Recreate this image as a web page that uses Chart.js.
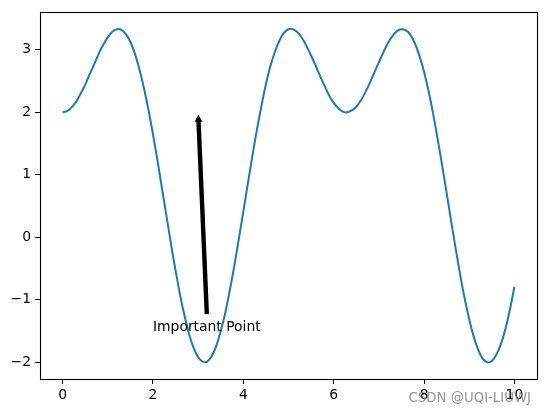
<!DOCTYPE html>
<html>
<head>
<meta charset="utf-8">
<script src="https://cdn.jsdelivr.net/npm/chart.js@4.4.1/dist/chart.umd.min.js"></script>
<style>
  html, body { margin: 0; padding: 0; background: #fff; }
  canvas { display: block; }
</style>
</head>
<body>
<canvas id="chart" width="546" height="413"></canvas>
<script>
// данные
const xValues = [
  0.0, 0.1, 0.2, 0.3, 0.4, 0.5, 0.6, 0.7, 0.8, 0.9,
  1.0, 1.1, 1.2, 1.3, 1.4, 1.5, 1.6, 1.7, 1.8, 1.9,
  2.0, 2.1, 2.2, 2.3, 2.4, 2.5, 2.6, 2.7, 2.8, 2.9,
  3.0, 3.1, 3.2, 3.3, 3.4, 3.5, 3.6, 3.7, 3.8, 3.9,
  4.0, 4.1, 4.2, 4.3, 4.4, 4.5, 4.6, 4.7, 4.8, 4.9,
  5.0, 5.1, 5.2, 5.3, 5.4, 5.5, 5.6, 5.7, 5.8, 5.9,
  6.0, 6.1, 6.2, 6.3, 6.4, 6.5, 6.6, 6.7, 6.8, 6.9,
  7.0, 7.1, 7.2, 7.3, 7.4, 7.5, 7.6, 7.7, 7.8, 7.9,
  8.0, 8.1, 8.2, 8.3, 8.4, 8.5, 8.6, 8.7, 8.8, 8.9,
  9.0, 9.1, 9.2, 9.3, 9.4, 9.5, 9.6, 9.7, 9.8, 9.9,
  10.0
];
const yValues = [
  2.00, 2.02, 2.08, 2.17, 2.30, 2.44, 2.61, 2.77, 2.94, 3.08,
  3.20, 3.29, 3.33, 3.32, 3.25, 3.13, 2.94, 2.69, 2.39, 2.04,
  1.65, 1.23, 0.78, 0.34, -0.11, -0.53, -0.92, -1.26, -1.55, -1.77,
  -1.92, -1.99, -1.99, -1.90, -1.74, -1.50, -1.21, -0.85, -0.46, -0.03,
  0.41, 0.86, 1.30, 1.72, 2.10, 2.45, 2.74, 2.97, 3.15, 3.27,
  3.33, 3.33, 3.28, 3.19, 3.06, 2.91, 2.75, 2.58, 2.42, 2.27,
  2.15, 2.07, 2.01, 2.00, 2.03, 2.09, 2.19, 2.32, 2.47, 2.64,
  2.80, 2.96, 3.11, 3.22, 3.30, 3.33, 3.31, 3.24, 3.10, 2.90,
  2.65, 2.34, 1.98, 1.58, 1.15, 0.71, 0.26, -0.18, -0.60, -0.98,
  -1.31, -1.59, -1.80, -1.94, -2.00, -1.98, -1.88, -1.71, -1.47, -1.16,
  -0.79
];
const xTicks = [0, 2, 4, 6, 8, 10];
const yTicks = [-2, -1, 0, 1, 2, 3];

// аннотация со стрелкой
const annotationText = 'Important Point';
const annotationTarget = [3, 2];
const annotationTextPos = [2, -1.5];
const watermarkText = 'CSDN @UQI-LIUWJ';

const FONT = '"DejaVu Sans", sans-serif';
const FONT_SIZE = 13.9;

// рамка, стрелка, подпись и водяной знак
const extrasPlugin = {
  id: 'extras',
  afterDraw(chart) {
    const ctx = chart.ctx;
    const area = chart.chartArea;
    const sx = chart.scales.x;
    const sy = chart.scales.y;

    ctx.save();
    // рамка осей
    ctx.strokeStyle = '#000';
    ctx.lineWidth = 1.1;
    ctx.strokeRect(Math.round(area.left) + 0.5, Math.round(area.top) + 0.5,
      Math.round(area.right - area.left), Math.round(area.bottom - area.top));

    // текст аннотации
    ctx.font = FONT_SIZE + 'px ' + FONT;
    ctx.fillStyle = '#000';
    ctx.textBaseline = 'alphabetic';
    ctx.textAlign = 'left';
    const tx = sx.getPixelForValue(annotationTextPos[0]);
    const ty = sy.getPixelForValue(annotationTextPos[1]);
    ctx.fillText(annotationText, tx, ty);
    const tw = ctx.measureText(annotationText).width;

    // стрелка
    const tail = [tx + tw / 2, ty - 17];
    const target = [sx.getPixelForValue(annotationTarget[0]), sy.getPixelForValue(annotationTarget[1])];
    let dx = target[0] - tail[0], dy = target[1] - tail[1];
    const len = Math.hypot(dx, dy);
    dx /= len; dy /= len;
    const tip = [target[0] - dx * 2.5, target[1] - dy * 2.5];
    const nx = -dy, ny = dx;
    const shaft = 2.2, head = 4, headLen = 7;
    const neck = [tip[0] - dx * headLen, tip[1] - dy * headLen];
    ctx.beginPath();
    ctx.moveTo(tail[0] + nx * shaft, tail[1] + ny * shaft);
    ctx.lineTo(neck[0] + nx * shaft, neck[1] + ny * shaft);
    ctx.lineTo(neck[0] + nx * head, neck[1] + ny * head);
    ctx.lineTo(tip[0], tip[1]);
    ctx.lineTo(neck[0] - nx * head, neck[1] - ny * head);
    ctx.lineTo(neck[0] - nx * shaft, neck[1] - ny * shaft);
    ctx.lineTo(tail[0] - nx * shaft, tail[1] - ny * shaft);
    ctx.closePath();
    ctx.fill();

    // водяной знак
    ctx.font = '13.3px ' + FONT;
    ctx.fillStyle = 'rgba(130,130,130,0.85)';
    ctx.textAlign = 'right';
    ctx.fillText(watermarkText, 531, 402);
    ctx.restore();
  }
};

const minusFix = v => String(v).replace('-', '\u2212');

new Chart(document.getElementById('chart'), {
  type: 'line',
  data: {
    datasets: [{
      data: xValues.map((x, i) => ({ x: x, y: yValues[i] })),
      borderColor: '#1f77b4',
      borderWidth: 2,
      pointRadius: 0,
      tension: 0.25,
      fill: false
    }]
  },
  options: {
    responsive: false,
    animation: false,
    devicePixelRatio: 1,
    layout: { padding: { top: 10, right: 9, left: 0, bottom: 0 } },
    plugins: {
      legend: { display: false },
      tooltip: { enabled: false }
    },
    scales: {
      x: {
        type: 'linear',
        min: -0.5,
        max: 10.5,
        afterBuildTicks: s => { s.ticks = xTicks.map(v => ({ value: v })); },
        afterFit: s => { s.height = 34; },
        grid: { drawOnChartArea: false, drawTicks: true, tickLength: 5, tickColor: '#000', lineWidth: 1 },
        border: { display: false },
        ticks: { color: '#000', font: { family: FONT, size: FONT_SIZE }, padding: 3, maxRotation: 0, callback: minusFix }
      },
      y: {
        type: 'linear',
        min: -2.267,
        max: 3.6,
        afterBuildTicks: s => { s.ticks = yTicks.map(v => ({ value: v })); },
        afterFit: s => { s.width = 40; },
        grid: { drawOnChartArea: false, drawTicks: true, tickLength: 5, tickColor: '#000', lineWidth: 1 },
        border: { display: false },
        ticks: { color: '#000', font: { family: FONT, size: FONT_SIZE }, padding: 4, callback: minusFix }
      }
    }
  },
  plugins: [extrasPlugin]
});
</script>
</body>
</html>
